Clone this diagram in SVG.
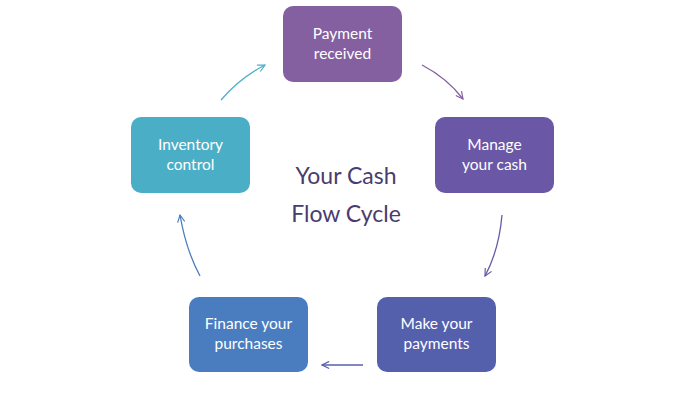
<svg xmlns="http://www.w3.org/2000/svg" width="688" height="400" viewBox="0 0 688 400">
<style>
.n text{font-family:Lato,"Open Sans",sans-serif;font-size:15.5px;fill:#fff;text-anchor:middle}
.c{font-family:Lato,"Open Sans",sans-serif;font-size:23px;fill:#4a3c6e;text-anchor:middle}
.a{fill:none;stroke-width:1.3}
</style>
<defs>
<marker id="m" viewBox="0 0 10 10" refX="9" refY="5" markerWidth="9" markerHeight="9" orient="auto" markerUnits="userSpaceOnUse"><path d="M1,1 L9,5 L1,9" fill="none" stroke="context-stroke" stroke-width="1.3"/></marker>
</defs>
<rect width="688" height="400" fill="#fff"/>
<g id="payment" class="n"><rect x="283" y="6" width="119" height="76" rx="10" fill="#8460a0"/><text x="342.5" y="39">Payment</text><text x="342.5" y="59">received</text></g>
<g id="manage" class="n"><rect x="435" y="117" width="119" height="76" rx="10" fill="#6a58a6"/><text x="494.5" y="150">Manage</text><text x="494.5" y="170">your cash</text></g>
<g id="make" class="n"><rect x="377" y="297" width="119" height="75" rx="10" fill="#5560ad"/><text x="436.5" y="329">Make your</text><text x="436.5" y="349">payments</text></g>
<g id="finance" class="n"><rect x="189" y="297" width="119" height="75" rx="10" fill="#4a7dbf"/><text x="248.5" y="329">Finance your</text><text x="248.5" y="349">purchases</text></g>
<g id="inventory" class="n"><rect x="131" y="117" width="119" height="76" rx="10" fill="#4aaec6"/><text x="190.5" y="150">Inventory</text><text x="190.5" y="170">control</text></g>
<text class="c" x="346" y="184">Your Cash</text>
<text class="c" x="346" y="222">Flow Cycle</text>
<g id="connectors">
<path class="a" stroke="#4aaec6" d="M221,100 Q240,78 265,65" marker-end="url(#m)"/>
<path class="a" stroke="#8460a0" d="M422,65 Q447,78 463,99" marker-end="url(#m)"/>
<path class="a" stroke="#6a58a6" d="M502,215 Q499,250 485,276" marker-end="url(#m)"/>
<path class="a" stroke="#5560ad" d="M363,365 L322,365" marker-end="url(#m)"/>
<path class="a" stroke="#4a7dbf" d="M200,276 Q186,250 180,215" marker-end="url(#m)"/>
</g>
</svg>
